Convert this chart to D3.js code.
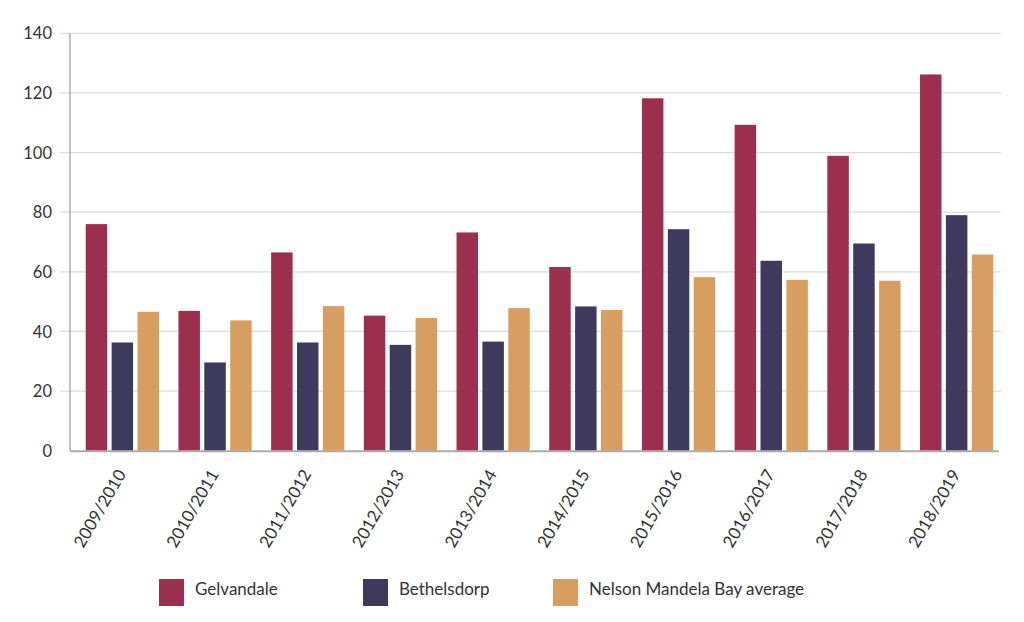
<!DOCTYPE html>
<html>
<head>
<meta charset="utf-8">
<script src="https://cdn.jsdelivr.net/npm/d3@7"></script>
<style>
    body { margin: 0; background: #fff; }
    text { font-family: Lato, "Open Sans", sans-serif; fill: #333; }
</style>
</head>
<body>
<div id="chart"></div>
<script>
// chart data
var years = ["2009/2010", "2010/2011", "2011/2012", "2012/2013", "2013/2014",
    "2014/2015", "2015/2016", "2016/2017", "2017/2018", "2018/2019"];
var seriesNames = ["Gelvandale", "Bethelsdorp", "Nelson Mandela Bay average"];
var gelvandale = [76, 46.9, 66.5, 45.3, 73.2, 61.6, 118.2, 109.3, 98.9, 126.2];
var bethelsdorp = [36.3, 29.6, 36.3, 35.5, 36.6, 48.4, 74.3, 63.7, 69.5, 79];
var nmbAverage = [46.6, 43.7, 48.5, 44.5, 47.8, 47.2, 58.2, 57.3, 57, 65.8];
var yTicks = [0, 20, 40, 60, 80, 100, 120, 140];

var colors = ["#9c2f4e", "#3d3a5e", "#d89e5f"];

var width = 1024, height = 622;
var svg = d3.select("#chart").append("svg")
    .attr("width", width)
    .attr("height", height);

var allSeries = [gelvandale, bethelsdorp, nmbAverage];
var rows = years.map(function(y, i) {
    return { year: y, values: allSeries.map(function(s) { return s[i]; }) };
});

var x0 = d3.scaleBand().domain(years).range([76, 1003])
    .paddingInner(0.21).paddingOuter(0.105);
var x1 = d3.scaleBand().domain(d3.range(3)).range([0, x0.bandwidth()])
    .paddingInner(0.17);
var y = d3.scaleLinear().domain([0, 140]).range([450.7, 33.3]);

// gridlines
svg.append("g").selectAll("line")
    .data(yTicks.slice(1))
    .enter().append("line")
    .attr("x1", 60).attr("x2", 1001)
    .attr("y1", function(d) { return y(d); })
    .attr("y2", function(d) { return y(d); })
    .attr("stroke", "#dcdcdc")
    .attr("stroke-width", 1.3);

// y axis
var yAxis = svg.append("g")
    .attr("transform", "translate(70,0)")
    .call(d3.axisLeft(y).tickValues(yTicks).tickSize(0).tickPadding(18));
yAxis.select(".domain").remove();
yAxis.selectAll("text")
    .style("font-size", "16.5px")
    .attr("dy", "0.34em");

svg.append("line")
    .attr("x1", 70).attr("x2", 70)
    .attr("y1", y(140)).attr("y2", y(0))
    .attr("stroke", "#9a9a9a").attr("stroke-width", 1.2);

// bars
var groups = svg.append("g").selectAll("g")
    .data(rows)
    .enter().append("g")
    .attr("transform", function(d) { return "translate(" + x0(d.year) + ",0)"; });

groups.selectAll("rect")
    .data(function(d) { return d.values; })
    .enter().append("rect")
    .attr("x", function(d, i) { return x1(i); })
    .attr("width", x1.bandwidth())
    .attr("y", function(d) { return y(d); })
    .attr("height", function(d) { return y(0) - y(d); })
    .attr("fill", function(d, i) { return colors[i]; });

// baseline
svg.append("line")
    .attr("x1", 70).attr("x2", 999)
    .attr("y1", y(0) + 0.5).attr("y2", y(0) + 0.5)
    .attr("stroke", "#aaaaaa").attr("stroke-width", 2);

// x labels
svg.append("g").selectAll("text")
    .data(years)
    .enter().append("text")
    .attr("transform", function(d) {
        return "translate(" + (x0(d) + x0.bandwidth() / 2 - 6) + ",468) rotate(-60)";
    })
    .attr("text-anchor", "end")
    .attr("dy", "0.7em")
    .style("font-size", "17px")
    .text(function(d) { return d; });

// legend
var legendX = [159, 363, 553];
var legend = svg.append("g").selectAll("g")
    .data(seriesNames)
    .enter().append("g")
    .attr("transform", function(d, i) { return "translate(" + legendX[i] + ",579)"; });

legend.append("rect")
    .attr("width", 25).attr("height", 27)
    .attr("fill", function(d, i) { return colors[i]; });

legend.append("text")
    .attr("x", 36).attr("y", 16)
    .style("font-size", "17px")
    .text(function(d) { return d; });
</script>
</body>
</html>
